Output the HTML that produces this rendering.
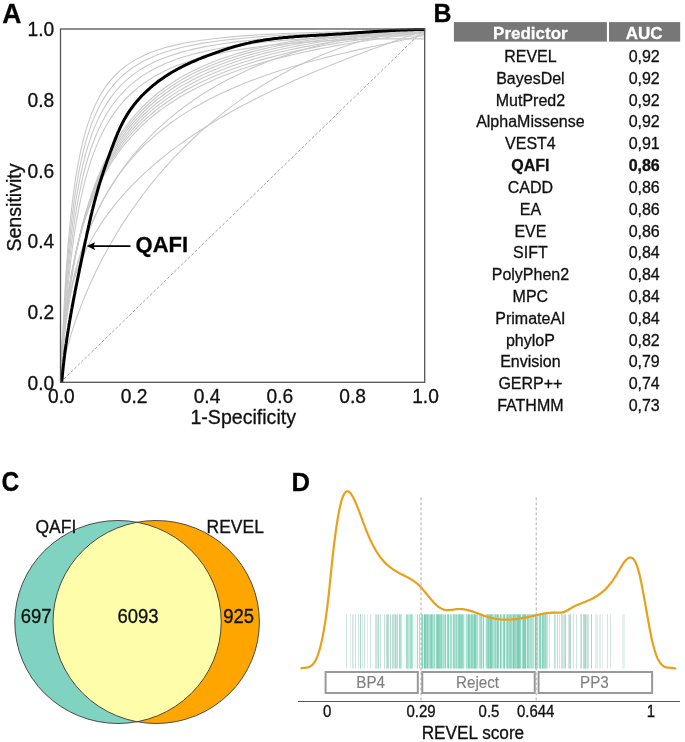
<!DOCTYPE html>
<html><head><meta charset="utf-8"><title>Figure</title>
<style>
html,body{margin:0;padding:0;background:#fff;}
body{width:685px;height:742px;overflow:hidden;}
svg{display:block;}
text{font-family:'Liberation Sans', Arial, Helvetica, sans-serif;fill:#111;stroke:#111;stroke-width:0.3px;}
.th{stroke:#fff;}
.bx{stroke:#808080;stroke-width:0.15px;}
.tk{font-size:19.2px;}
.ax{font-size:19.6px;}
.qa{font-size:22px;font-weight:bold;fill:#000;}
.pl{font-size:26.5px;font-weight:bold;fill:#000;}
.th{font-size:17px;font-weight:bold;fill:#fff;}
.td{font-size:16px;fill:#111;}
.vn{font-size:17.5px;}
.vc{font-size:18.5px;}
.bx{font-size:15.2px;fill:#808080;}
.dt{font-size:15px;}
.dl{font-size:17.2px;}
</style></head>
<body>
<svg width="685" height="742" viewBox="0 0 685 742">
<rect width="685" height="742" fill="#fff"/>
<polyline points="60.5,382.3 60.6,382.2 60.6,382.1 60.6,382.1 60.6,381.9 60.6,381.7 60.7,381.4 60.7,380.9 60.8,380.3 60.8,379.5 60.9,378.4 60.9,376.9 61,375 61.1,372.6 61.3,369.7 61.4,366.1 61.6,361.8 61.8,356.7 62.1,350.8 62.3,344.1 62.7,336.5 63.1,328 63.5,318.7 64,308.7 64.6,297.9 65.2,286.5 65.9,274.6 66.8,262.2 67.7,249.6 68.8,236.8 70,224 71.3,211.2 72.8,198.6 74.4,186.3 76.2,174.4 78.3,162.9 80.5,151.9 82.9,141.5 85.5,131.6 88.4,122.4 91.5,113.8 94.9,105.8 98.5,98.4 102.4,91.6 106.6,85.4 111.1,79.7 115.8,74.5 120.8,69.9 126.2,65.6 131.8,61.9 137.7,58.4 143.8,55.4 150.3,52.6 156.9,50.2 163.9,48 171,46.1 178.4,44.4 186,42.8 193.7,41.5 201.6,40.2 209.7,39.2 217.8,38.2 226,37.4 234.3,36.6 242.6,35.9 250.9,35.4 259.2,34.8 267.4,34.4 275.5,34 283.6,33.6 291.5,33.3 299.2,33 306.8,32.7 314.2,32.5 321.3,32.3 328.3,32.1 334.9,32 341.4,31.8 347.5,31.7 353.4,31.6 359,31.5 364.4,31.5 369.4,31.4 374.1,31.3 378.6,31.3 382.8,31.3 386.7,31.3 390.3,31.3 393.7,31.3 396.8,31.3 399.7,31.3 402.3,31.3 404.7,31.3 406.9,31.3 409,31.3 410.8,31.3 412.4,31.3 413.9,31.3 415.2,31.3 416.4,31.3 417.5,31.3 418.4,31.3 419.3,31.3 420,31.3 420.6,31.3 421.2,31.3 421.7,31.3 422.1,31.3 422.5,31.3 422.9,31.3 423.1,31.3 423.4,31.3 423.6,31.3 423.8,31.3 423.9,31.3 424.1,31.3 424.2,31.3 424.3,31.3 424.3,31.3 424.4,31.3 424.4,31.3 424.7,29" fill="none" stroke="#c9c9c9" stroke-width="1.1"/>
<polyline points="60.5,382.3 60.6,382.2 60.6,382.2 60.6,382.1 60.6,382 60.6,381.8 60.7,381.5 60.7,381.1 60.8,380.6 60.8,379.9 60.9,378.9 60.9,377.7 61,376 61.1,373.9 61.3,371.3 61.4,368.2 61.6,364.3 61.8,359.8 62.1,354.5 62.3,348.4 62.7,341.5 63.1,333.7 63.5,325.2 64,315.8 64.6,305.8 65.2,295.1 65.9,283.8 66.8,272.1 67.7,260 68.8,247.7 70,235.3 71.3,222.8 72.8,210.4 74.4,198.2 76.2,186.3 78.3,174.7 80.5,163.6 82.9,152.9 85.5,142.8 88.4,133.3 91.5,124.3 94.9,115.9 98.5,108 102.4,100.8 106.6,94.1 111.1,88 115.8,82.3 120.8,77.2 126.2,72.5 131.8,68.3 137.7,64.5 143.8,61 150.3,57.9 156.9,55.1 163.9,52.6 171,50.3 178.4,48.3 186,46.5 193.7,44.9 201.6,43.4 209.7,42.2 217.8,41 226,40 234.3,39.1 242.6,38.2 250.9,37.5 259.2,36.9 267.4,36.3 275.5,35.8 283.6,35.3 291.5,34.9 299.2,34.5 306.8,34.2 314.2,33.9 321.3,33.7 328.3,33.4 334.9,33.2 341.4,33.1 347.5,32.9 353.4,32.8 359,32.7 364.4,32.6 369.4,32.5 374.1,32.4 378.6,32.4 382.8,32.4 386.7,32.4 390.3,32.4 393.7,32.4 396.8,32.4 399.7,32.4 402.3,32.4 404.7,32.4 406.9,32.4 409,32.4 410.8,32.4 412.4,32.4 413.9,32.4 415.2,32.4 416.4,32.4 417.5,32.4 418.4,32.4 419.3,32.4 420,32.4 420.6,32.4 421.2,32.4 421.7,32.4 422.1,32.4 422.5,32.4 422.9,32.4 423.1,32.4 423.4,32.4 423.6,32.4 423.8,32.4 423.9,32.4 424.1,32.4 424.2,32.4 424.3,32.4 424.3,32.4 424.4,32.4 424.4,32.4 424.7,29" fill="none" stroke="#c9c9c9" stroke-width="1.1"/>
<polyline points="60.5,382.3 60.6,382.2 60.6,382.2 60.6,382.1 60.6,382 60.6,381.9 60.7,381.6 60.7,381.3 60.8,380.9 60.8,380.3 60.9,379.4 60.9,378.3 61,376.9 61.1,375.1 61.3,372.8 61.4,370 61.6,366.6 61.8,362.6 62.1,357.8 62.3,352.3 62.7,346.1 63.1,339 63.5,331.2 64,322.6 64.6,313.3 65.2,303.3 65.9,292.7 66.8,281.6 67.7,270.1 68.8,258.3 70,246.3 71.3,234.2 72.8,222.1 74.4,210.1 76.2,198.3 78.3,186.8 80.5,175.6 82.9,164.8 85.5,154.5 88.4,144.7 91.5,135.4 94.9,126.6 98.5,118.4 102.4,110.7 106.6,103.6 111.1,97.1 115.8,91 120.8,85.4 126.2,80.3 131.8,75.6 137.7,71.4 143.8,67.5 150.3,64 156.9,60.8 163.9,58 171,55.4 178.4,53.1 186,51 193.7,49.1 201.6,47.4 209.7,45.8 217.8,44.5 226,43.2 234.3,42.1 242.6,41.1 250.9,40.2 259.2,39.4 267.4,38.7 275.5,38.1 283.6,37.5 291.5,37 299.2,36.6 306.8,36.2 314.2,35.8 321.3,35.5 328.3,35.2 334.9,35 341.4,34.7 347.5,34.6 353.4,34.4 359,34.3 364.4,34.1 369.4,34.1 374.1,34 378.6,33.9 382.8,33.9 386.7,33.9 390.3,33.9 393.7,33.9 396.8,33.9 399.7,33.9 402.3,33.9 404.7,33.9 406.9,33.9 409,33.9 410.8,33.9 412.4,33.9 413.9,33.9 415.2,33.9 416.4,33.9 417.5,33.9 418.4,33.9 419.3,33.9 420,33.9 420.6,33.9 421.2,33.9 421.7,33.9 422.1,33.9 422.5,33.9 422.9,33.9 423.1,33.9 423.4,33.9 423.6,33.9 423.8,33.9 423.9,33.9 424.1,33.9 424.2,33.9 424.3,33.9 424.3,33.9 424.4,33.9 424.4,33.9 424.7,29" fill="none" stroke="#c9c9c9" stroke-width="1.1"/>
<polyline points="60.5,382.3 60.6,382.2 60.6,382.2 60.6,382.2 60.6,382.1 60.6,381.9 60.7,381.7 60.7,381.5 60.8,381.1 60.8,380.6 60.9,379.9 60.9,378.9 61,377.7 61.1,376.1 61.3,374.1 61.4,371.7 61.6,368.7 61.8,365.1 62.1,360.9 62.3,355.9 62.7,350.3 63.1,343.9 63.5,336.8 64,328.9 64.6,320.3 65.2,311 65.9,301.2 66.8,290.7 67.7,279.9 68.8,268.6 70,257.1 71.3,245.5 72.8,233.7 74.4,222 76.2,210.4 78.3,199 80.5,187.8 82.9,177 85.5,166.5 88.4,156.5 91.5,147 94.9,138 98.5,129.4 102.4,121.4 106.6,113.9 111.1,107 115.8,100.5 120.8,94.5 126.2,88.9 131.8,83.9 137.7,79.2 143.8,74.9 150.3,71 156.9,67.5 163.9,64.2 171,61.3 178.4,58.6 186,56.2 193.7,54 201.6,52.1 209.7,50.3 217.8,48.7 226,47.2 234.3,45.9 242.6,44.7 250.9,43.7 259.2,42.7 267.4,41.8 275.5,41.1 283.6,40.4 291.5,39.8 299.2,39.2 306.8,38.7 314.2,38.3 321.3,37.9 328.3,37.5 334.9,37.2 341.4,37 347.5,36.7 353.4,36.6 359,36.4 364.4,36.3 369.4,36.2 374.1,36.1 378.6,36.1 382.8,36 386.7,36 390.3,36 393.7,36 396.8,36 399.7,36 402.3,36 404.7,36 406.9,36 409,36 410.8,36 412.4,36 413.9,36 415.2,36 416.4,36 417.5,36 418.4,36 419.3,36 420,36 420.6,36 421.2,36 421.7,36 422.1,36 422.5,36 422.9,36 423.1,36 423.4,36 423.6,36 423.8,36 423.9,36 424.1,36 424.2,36 424.3,36 424.3,36 424.4,36 424.4,36 424.7,29" fill="none" stroke="#c9c9c9" stroke-width="1.1"/>
<polyline points="60.5,382.3 60.6,382.3 60.6,382.2 60.6,382.2 60.6,382.1 60.6,382 60.7,381.8 60.7,381.6 60.8,381.3 60.8,380.8 60.9,380.2 60.9,379.4 61,378.3 61.1,377 61.3,375.3 61.4,373.1 61.6,370.5 61.8,367.3 62.1,363.6 62.3,359.2 62.7,354.1 63.1,348.4 63.5,341.9 64,334.7 64.6,326.8 65.2,318.3 65.9,309.1 66.8,299.4 67.7,289.2 68.8,278.6 70,267.6 71.3,256.5 72.8,245.1 74.4,233.8 76.2,222.4 78.3,211.2 80.5,200.2 82.9,189.4 85.5,178.9 88.4,168.8 91.5,159.1 94.9,149.9 98.5,141.1 102.4,132.8 106.6,125 111.1,117.6 115.8,110.8 120.8,104.4 126.2,98.5 131.8,93 137.7,87.9 143.8,83.3 150.3,79 156.9,75 163.9,71.4 171,68.1 178.4,65.1 186,62.4 193.7,59.9 201.6,57.7 209.7,55.6 217.8,53.7 226,52 234.3,50.5 242.6,49.1 250.9,47.9 259.2,46.7 267.4,45.7 275.5,44.8 283.6,44 291.5,43.2 299.2,42.6 306.8,42 314.2,41.4 321.3,41 328.3,40.6 334.9,40.2 341.4,39.9 347.5,39.6 353.4,39.4 359,39.2 364.4,39.1 369.4,39 374.1,38.9 378.6,38.9 382.8,38.9 386.7,38.9 390.3,38.9 393.7,38.9 396.8,38.9 399.7,38.9 402.3,38.9 404.7,38.9 406.9,38.9 409,38.9 410.8,38.9 412.4,38.9 413.9,38.9 415.2,38.9 416.4,38.9 417.5,38.9 418.4,38.9 419.3,38.9 420,38.9 420.6,38.9 421.2,38.9 421.7,38.9 422.1,38.9 422.5,38.9 422.9,38.9 423.1,38.9 423.4,38.9 423.6,38.9 423.8,38.9 423.9,38.9 424.1,38.9 424.2,38.9 424.3,38.9 424.3,38.9 424.4,38.9 424.4,38.9 424.7,29" fill="none" stroke="#c9c9c9" stroke-width="1.1"/>
<polyline points="60.5,382.3 60.6,381.9 60.6,381.7 60.6,381.5 60.6,381.3 60.6,381 60.7,380.6 60.7,380 60.8,379.4 60.8,378.7 60.9,377.7 60.9,376.6 61,375.3 61.1,373.7 61.3,371.8 61.4,369.7 61.6,367.2 61.8,364.4 62.1,361.1 62.3,357.5 62.7,353.5 63.1,349 63.5,344 64,338.6 64.6,332.7 65.2,326.4 65.9,319.6 66.8,312.3 67.7,304.7 68.8,296.6 70,288.3 71.3,279.6 72.8,270.6 74.4,261.3 76.2,251.9 78.3,242.4 80.5,232.7 82.9,223.1 85.5,213.4 88.4,203.8 91.5,194.2 94.9,184.9 98.5,175.7 102.4,166.7 106.6,157.9 111.1,149.5 115.8,141.3 120.8,133.5 126.2,126 131.8,118.8 137.7,112 143.8,105.6 150.3,99.5 156.9,93.8 163.9,88.5 171,83.5 178.4,78.8 186,74.4 193.7,70.4 201.6,66.7 209.7,63.2 217.8,60.1 226,57.2 234.3,54.5 242.6,52.1 250.9,49.8 259.2,47.8 267.4,45.9 275.5,44.3 283.6,42.7 291.5,41.4 299.2,40.1 306.8,39 314.2,38 321.3,37.1 328.3,36.2 334.9,35.5 341.4,34.8 347.5,34.2 353.4,33.7 359,33.2 364.4,32.8 369.4,32.4 374.1,32 378.6,31.7 382.8,31.5 386.7,31.2 390.3,31 393.7,30.8 396.8,30.6 399.7,30.4 402.3,30.3 404.7,30.2 406.9,30.1 409,30 410.8,29.9 412.4,29.8 413.9,29.7 415.2,29.6 416.4,29.6 417.5,29.5 418.4,29.5 419.3,29.4 420,29.4 420.6,29.4 421.2,29.3 421.7,29.3 422.1,29.3 422.5,29.3 422.9,29.2 423.1,29.2 423.4,29.2 423.6,29.2 423.8,29.2 423.9,29.2 424.1,29.2 424.2,29.1 424.3,29.1 424.3,29.1 424.4,29.1 424.4,29.1 424.7,29" fill="none" stroke="#c9c9c9" stroke-width="1.1"/>
<polyline points="60.5,382.3 60.6,381.8 60.6,381.6 60.6,381.4 60.6,381.1 60.6,380.7 60.7,380.3 60.7,379.7 60.8,379 60.8,378.2 60.9,377.2 60.9,376 61,374.6 61.1,372.9 61.3,371 61.4,368.7 61.6,366.1 61.8,363.2 62.1,359.9 62.3,356.2 62.7,352.1 63.1,347.5 63.5,342.5 64,337.1 64.6,331.2 65.2,324.9 65.9,318.2 66.8,311 67.7,303.5 68.8,295.5 70,287.3 71.3,278.8 72.8,270 74.4,260.9 76.2,251.7 78.3,242.4 80.5,233 82.9,223.6 85.5,214.1 88.4,204.8 91.5,195.5 94.9,186.3 98.5,177.3 102.4,168.6 106.6,160 111.1,151.7 115.8,143.7 120.8,136 126.2,128.7 131.8,121.6 137.7,114.9 143.8,108.5 150.3,102.5 156.9,96.8 163.9,91.4 171,86.4 178.4,81.7 186,77.3 193.7,73.2 201.6,69.4 209.7,65.9 217.8,62.7 226,59.7 234.3,56.9 242.6,54.4 250.9,52.1 259.2,49.9 267.4,48 275.5,46.2 283.6,44.6 291.5,43.1 299.2,41.8 306.8,40.5 314.2,39.4 321.3,38.4 328.3,37.5 334.9,36.7 341.4,36 347.5,35.3 353.4,34.7 359,34.1 364.4,33.6 369.4,33.2 374.1,32.8 378.6,32.4 382.8,32.1 386.7,31.8 390.3,31.5 393.7,31.3 396.8,31.1 399.7,30.9 402.3,30.7 404.7,30.6 406.9,30.4 409,30.3 410.8,30.2 412.4,30.1 413.9,30 415.2,29.9 416.4,29.8 417.5,29.8 418.4,29.7 419.3,29.6 420,29.6 420.6,29.6 421.2,29.5 421.7,29.5 422.1,29.4 422.5,29.4 422.9,29.4 423.1,29.4 423.4,29.3 423.6,29.3 423.8,29.3 423.9,29.3 424.1,29.3 424.2,29.2 424.3,29.2 424.3,29.2 424.4,29.2 424.4,29.2 424.7,29" fill="none" stroke="#c9c9c9" stroke-width="1.1"/>
<polyline points="60.5,382.3 60.6,381.7 60.6,381.5 60.6,381.2 60.6,380.9 60.6,380.5 60.7,380 60.7,379.4 60.8,378.6 60.8,377.7 60.9,376.6 60.9,375.3 61,373.8 61.1,372.1 61.3,370 61.4,367.7 61.6,365 61.8,362 62.1,358.6 62.3,354.8 62.7,350.6 63.1,346.1 63.5,341 64,335.6 64.6,329.7 65.2,323.4 65.9,316.7 66.8,309.7 67.7,302.2 68.8,294.4 70,286.3 71.3,278 72.8,269.3 74.4,260.5 76.2,251.6 78.3,242.5 80.5,233.3 82.9,224.1 85.5,214.9 88.4,205.8 91.5,196.7 94.9,187.8 98.5,179 102.4,170.5 106.6,162.1 111.1,154 115.8,146.2 120.8,138.6 126.2,131.4 131.8,124.4 137.7,117.8 143.8,111.5 150.3,105.5 156.9,99.8 163.9,94.5 171,89.5 178.4,84.7 186,80.3 193.7,76.2 201.6,72.3 209.7,68.8 217.8,65.4 226,62.4 234.3,59.5 242.6,56.9 250.9,54.5 259.2,52.2 267.4,50.2 275.5,48.3 283.6,46.6 291.5,45 299.2,43.6 306.8,42.3 314.2,41.1 321.3,40 328.3,39 334.9,38.1 341.4,37.3 347.5,36.5 353.4,35.8 359,35.2 364.4,34.7 369.4,34.2 374.1,33.7 378.6,33.3 382.8,32.9 386.7,32.6 390.3,32.3 393.7,32 396.8,31.7 399.7,31.5 402.3,31.3 404.7,31.1 406.9,30.9 409,30.8 410.8,30.6 412.4,30.5 413.9,30.4 415.2,30.3 416.4,30.2 417.5,30.1 418.4,30 419.3,29.9 420,29.9 420.6,29.8 421.2,29.7 421.7,29.7 422.1,29.7 422.5,29.6 422.9,29.6 423.1,29.5 423.4,29.5 423.6,29.5 423.8,29.5 423.9,29.4 424.1,29.4 424.2,29.4 424.3,29.4 424.3,29.3 424.4,29.3 424.4,29.3 424.7,29" fill="none" stroke="#c9c9c9" stroke-width="1.1"/>
<polyline points="60.5,382.3 60.6,381.6 60.6,381.3 60.6,381 60.6,380.7 60.6,380.2 60.7,379.6 60.7,379 60.8,378.1 60.8,377.2 60.9,376 60.9,374.6 61,373 61.1,371.2 61.3,369 61.4,366.6 61.6,363.8 61.8,360.7 62.1,357.3 62.3,353.4 62.7,349.2 63.1,344.5 63.5,339.5 64,334 64.6,328.2 65.2,321.9 65.9,315.3 66.8,308.3 67.7,301 68.8,293.3 70,285.4 71.3,277.2 72.8,268.7 74.4,260.1 76.2,251.4 78.3,242.5 80.5,233.6 82.9,224.6 85.5,215.7 88.4,206.8 91.5,198 94.9,189.3 98.5,180.7 102.4,172.4 106.6,164.2 111.1,156.3 115.8,148.7 120.8,141.2 126.2,134.1 131.8,127.3 137.7,120.7 143.8,114.5 150.3,108.6 156.9,103 163.9,97.6 171,92.6 178.4,87.9 186,83.4 193.7,79.3 201.6,75.4 209.7,71.8 217.8,68.4 226,65.2 234.3,62.3 242.6,59.6 250.9,57.1 259.2,54.8 267.4,52.6 275.5,50.7 283.6,48.8 291.5,47.2 299.2,45.6 306.8,44.2 314.2,42.9 321.3,41.8 328.3,40.7 334.9,39.7 341.4,38.8 347.5,38 353.4,37.2 359,36.5 364.4,35.9 369.4,35.3 374.1,34.8 378.6,34.3 382.8,33.9 386.7,33.5 390.3,33.1 393.7,32.8 396.8,32.5 399.7,32.2 402.3,32 404.7,31.7 406.9,31.5 409,31.3 410.8,31.2 412.4,31 413.9,30.9 415.2,30.7 416.4,30.6 417.5,30.5 418.4,30.4 419.3,30.3 420,30.2 420.6,30.2 421.2,30.1 421.7,30 422.1,30 422.5,29.9 422.9,29.9 423.1,29.8 423.4,29.8 423.6,29.7 423.8,29.7 423.9,29.7 424.1,29.6 424.2,29.6 424.3,29.6 424.3,29.6 424.4,29.5 424.4,29.5 424.7,29" fill="none" stroke="#c9c9c9" stroke-width="1.1"/>
<polyline points="60.5,382.3 60.6,381.4 60.6,381.1 60.6,380.8 60.6,380.4 60.6,379.9 60.7,379.3 60.7,378.5 60.8,377.6 60.8,376.6 60.9,375.3 60.9,373.8 61,372.1 61.1,370.2 61.3,368 61.4,365.4 61.6,362.6 61.8,359.4 62.1,355.8 62.3,351.9 62.7,347.6 63.1,343 63.5,337.9 64,332.4 64.6,326.6 65.2,320.4 65.9,313.8 66.8,306.9 67.7,299.7 68.8,292.2 70,284.4 71.3,276.3 72.8,268.1 74.4,259.7 76.2,251.2 78.3,242.5 80.5,233.8 82.9,225.1 85.5,216.4 88.4,207.8 91.5,199.2 94.9,190.8 98.5,182.5 102.4,174.3 106.6,166.4 111.1,158.6 115.8,151.1 120.8,143.9 126.2,136.9 131.8,130.2 137.7,123.7 143.8,117.6 150.3,111.7 156.9,106.2 163.9,100.9 171,95.9 178.4,91.1 186,86.7 193.7,82.5 201.6,78.6 209.7,74.9 217.8,71.5 226,68.3 234.3,65.3 242.6,62.5 250.9,59.9 259.2,57.5 267.4,55.3 275.5,53.2 283.6,51.3 291.5,49.5 299.2,47.9 306.8,46.4 314.2,45 321.3,43.8 328.3,42.6 334.9,41.5 341.4,40.5 347.5,39.6 353.4,38.8 359,38 364.4,37.3 369.4,36.7 374.1,36.1 378.6,35.6 382.8,35.1 386.7,34.6 390.3,34.2 393.7,33.8 396.8,33.5 399.7,33.1 402.3,32.8 404.7,32.6 406.9,32.3 409,32.1 410.8,31.9 412.4,31.7 413.9,31.5 415.2,31.4 416.4,31.2 417.5,31.1 418.4,31 419.3,30.8 420,30.7 420.6,30.6 421.2,30.6 421.7,30.5 422.1,30.4 422.5,30.3 422.9,30.3 423.1,30.2 423.4,30.2 423.6,30.1 423.8,30.1 423.9,30 424.1,30 424.2,29.9 424.3,29.9 424.3,29.9 424.4,29.9 424.4,29.8 424.7,29" fill="none" stroke="#c9c9c9" stroke-width="1.1"/>
<polyline points="60.5,382.3 60.6,381.2 60.6,380.9 60.6,380.5 60.6,380.1 60.6,379.5 60.7,378.8 60.7,378 60.8,377 60.8,375.9 60.9,374.6 60.9,373 61,371.2 61.1,369.2 61.3,366.8 61.4,364.2 61.6,361.3 61.8,358 62.1,354.4 62.3,350.4 62.7,346.1 63.1,341.4 63.5,336.3 64,330.8 64.6,325 65.2,318.9 65.9,312.4 66.8,305.5 67.7,298.4 68.8,291 70,283.4 71.3,275.5 72.8,267.5 74.4,259.3 76.2,251 78.3,242.6 80.5,234.1 82.9,225.7 85.5,217.2 88.4,208.8 91.5,200.5 94.9,192.2 98.5,184.2 102.4,176.2 106.6,168.5 111.1,161 115.8,153.6 120.8,146.6 126.2,139.7 131.8,133.1 137.7,126.8 143.8,120.7 150.3,115 156.9,109.4 163.9,104.2 171,99.2 178.4,94.5 186,90.1 193.7,85.9 201.6,81.9 209.7,78.2 217.8,74.7 226,71.5 234.3,68.4 242.6,65.6 250.9,62.9 259.2,60.4 267.4,58.1 275.5,56 283.6,54 291.5,52.1 299.2,50.4 306.8,48.8 314.2,47.4 321.3,46 328.3,44.7 334.9,43.6 341.4,42.5 347.5,41.5 353.4,40.6 359,39.8 364.4,39 369.4,38.3 374.1,37.6 378.6,37 382.8,36.5 386.7,36 390.3,35.5 393.7,35 396.8,34.6 399.7,34.3 402.3,33.9 404.7,33.6 406.9,33.3 409,33.1 410.8,32.8 412.4,32.6 413.9,32.4 415.2,32.2 416.4,32 417.5,31.8 418.4,31.7 419.3,31.6 420,31.4 420.6,31.3 421.2,31.2 421.7,31.1 422.1,31 422.5,30.9 422.9,30.8 423.1,30.8 423.4,30.7 423.6,30.6 423.8,30.6 423.9,30.5 424.1,30.5 424.2,30.4 424.3,30.4 424.3,30.4 424.4,30.3 424.4,30.3 424.7,29" fill="none" stroke="#c9c9c9" stroke-width="1.1"/>
<polyline points="60.5,382.3 60.6,381 60.6,380.7 60.6,380.2 60.6,379.7 60.6,379.1 60.7,378.3 60.7,377.4 60.8,376.4 60.8,375.2 60.9,373.7 60.9,372.1 61,370.2 61.1,368 61.3,365.6 61.4,362.9 61.6,359.9 61.8,356.5 62.1,352.8 62.3,348.8 62.7,344.4 63.1,339.7 63.5,334.6 64,329.2 64.6,323.4 65.2,317.3 65.9,310.9 66.8,304.1 67.7,297.1 68.8,289.9 70,282.4 71.3,274.7 72.8,266.9 74.4,258.9 76.2,250.8 78.3,242.6 80.5,234.4 82.9,226.2 85.5,218 88.4,209.8 91.5,201.7 94.9,193.7 98.5,185.9 102.4,178.2 106.6,170.6 111.1,163.3 115.8,156.2 120.8,149.2 126.2,142.6 131.8,136.1 137.7,129.9 143.8,123.9 150.3,118.2 156.9,112.8 163.9,107.6 171,102.7 178.4,98 186,93.6 193.7,89.4 201.6,85.4 209.7,81.7 217.8,78.1 226,74.8 234.3,71.7 242.6,68.8 250.9,66.1 259.2,63.6 267.4,61.2 275.5,59 283.6,56.9 291.5,55 299.2,53.2 306.8,51.5 314.2,49.9 321.3,48.5 328.3,47.2 334.9,45.9 341.4,44.8 347.5,43.7 353.4,42.7 359,41.8 364.4,41 369.4,40.2 374.1,39.4 378.6,38.8 382.8,38.2 386.7,37.6 390.3,37 393.7,36.6 396.8,36.1 399.7,35.7 402.3,35.3 404.7,34.9 406.9,34.6 409,34.3 410.8,34 412.4,33.7 413.9,33.5 415.2,33.3 416.4,33 417.5,32.8 418.4,32.7 419.3,32.5 420,32.3 420.6,32.2 421.2,32.1 421.7,31.9 422.1,31.8 422.5,31.7 422.9,31.6 423.1,31.5 423.4,31.5 423.6,31.4 423.8,31.3 423.9,31.3 424.1,31.2 424.2,31.1 424.3,31.1 424.3,31.1 424.4,31 424.4,31 424.7,29" fill="none" stroke="#c9c9c9" stroke-width="1.1"/>
<polyline points="60.5,382.3 60.6,381.3 60.6,381.1 60.6,380.7 60.6,380.3 60.6,379.9 60.7,379.3 60.7,378.6 60.8,377.8 60.8,376.8 60.9,375.7 60.9,374.4 61,372.9 61.1,371.2 61.3,369.2 61.4,367.1 61.6,364.6 61.8,361.9 62.1,358.9 62.3,355.6 62.7,351.9 63.1,348 63.5,343.7 64,339.2 64.6,334.3 65.2,329 65.9,323.5 66.8,317.7 67.7,311.6 68.8,305.2 70,298.6 71.3,291.8 72.8,284.7 74.4,277.5 76.2,270.1 78.3,262.6 80.5,255 82.9,247.3 85.5,239.5 88.4,231.8 91.5,224 94.9,216.3 98.5,208.7 102.4,201.1 106.6,193.6 111.1,186.3 115.8,179.1 120.8,172 126.2,165.2 131.8,158.5 137.7,152 143.8,145.7 150.3,139.6 156.9,133.8 163.9,128.2 171,122.8 178.4,117.6 186,112.6 193.7,107.9 201.6,103.4 209.7,99.1 217.8,95 226,91.2 234.3,87.5 242.6,84 250.9,80.7 259.2,77.7 267.4,74.7 275.5,72 283.6,69.4 291.5,67 299.2,64.7 306.8,62.5 314.2,60.5 321.3,58.7 328.3,56.9 334.9,55.2 341.4,53.7 347.5,52.2 353.4,50.9 359,49.6 364.4,48.4 369.4,47.3 374.1,46.3 378.6,45.4 382.8,44.5 386.7,43.6 390.3,42.8 393.7,42.1 396.8,41.4 399.7,40.8 402.3,40.2 404.7,39.7 406.9,39.2 409,38.7 410.8,38.2 412.4,37.8 413.9,37.4 415.2,37.1 416.4,36.7 417.5,36.4 418.4,36.1 419.3,35.9 420,35.6 420.6,35.4 421.2,35.2 421.7,35 422.1,34.8 422.5,34.6 422.9,34.5 423.1,34.3 423.4,34.2 423.6,34.1 423.8,34 423.9,33.9 424.1,33.8 424.2,33.7 424.3,33.6 424.3,33.5 424.4,33.5 424.4,33.4 424.7,29" fill="none" stroke="#c9c9c9" stroke-width="1.1"/>
<polyline points="60.5,382.3 60.6,377.8 60.6,377.1 60.6,376.4 60.6,375.5 60.6,374.6 60.7,373.6 60.7,372.4 60.8,371.1 60.8,369.7 60.9,368.1 60.9,366.4 61,364.5 61.1,362.4 61.3,360.2 61.4,357.7 61.6,355.1 61.8,352.2 62.1,349.2 62.3,345.9 62.7,342.3 63.1,338.6 63.5,334.5 64,330.3 64.6,325.8 65.2,321 65.9,316 66.8,310.8 67.7,305.3 68.8,299.5 70,293.6 71.3,287.4 72.8,281 74.4,274.5 76.2,267.7 78.3,260.8 80.5,253.7 82.9,246.5 85.5,239.2 88.4,231.7 91.5,224.2 94.9,216.7 98.5,209.1 102.4,201.5 106.6,193.9 111.1,186.4 115.8,178.9 120.8,171.5 126.2,164.1 131.8,156.9 137.7,149.9 143.8,143 150.3,136.2 156.9,129.7 163.9,123.3 171,117.2 178.4,111.2 186,105.5 193.7,100 201.6,94.8 209.7,89.8 217.8,85.1 226,80.6 234.3,76.4 242.6,72.4 250.9,68.6 259.2,65.1 267.4,61.8 275.5,58.8 283.6,56 291.5,53.3 299.2,50.9 306.8,48.7 314.2,46.6 321.3,44.7 328.3,43 334.9,41.5 341.4,40.1 347.5,38.8 353.4,37.6 359,36.6 364.4,35.7 369.4,34.8 374.1,34.1 378.6,33.4 382.8,32.9 386.7,32.3 390.3,31.9 393.7,31.5 396.8,31.1 399.7,30.8 402.3,30.6 404.7,30.3 406.9,30.1 409,30 410.8,29.8 412.4,29.7 413.9,29.6 415.2,29.5 416.4,29.4 417.5,29.3 418.4,29.3 419.3,29.2 420,29.2 420.6,29.2 421.2,29.1 421.7,29.1 422.1,29.1 422.5,29.1 422.9,29.1 423.1,29 423.4,29 423.6,29 423.8,29 423.9,29 424.1,29 424.2,29 424.3,29 424.3,29 424.4,29 424.4,29 424.7,29" fill="none" stroke="#c9c9c9" stroke-width="1.1"/>
<polyline points="60.5,382.3 60.6,372.3 60.6,371.3 60.6,370.2 60.6,369 60.6,367.7 60.7,366.3 60.7,364.8 60.8,363.2 60.8,361.5 60.9,359.7 60.9,357.7 61,355.7 61.1,353.4 61.3,351.1 61.4,348.6 61.6,346 61.8,343.2 62.1,340.3 62.3,337.2 62.7,334 63.1,330.6 63.5,327.1 64,323.4 64.6,319.5 65.2,315.5 65.9,311.4 66.8,307.1 67.7,302.6 68.8,298 70,293.3 71.3,288.4 72.8,283.4 74.4,278.2 76.2,273 78.3,267.6 80.5,262.1 82.9,256.6 85.5,250.9 88.4,245.2 91.5,239.4 94.9,233.5 98.5,227.6 102.4,221.6 106.6,215.6 111.1,209.6 115.8,203.6 120.8,197.6 126.2,191.6 131.8,185.6 137.7,179.7 143.8,173.8 150.3,167.9 156.9,162.2 163.9,156.5 171,150.9 178.4,145.4 186,140 193.7,134.7 201.6,129.5 209.7,124.5 217.8,119.5 226,114.7 234.3,110.1 242.6,105.6 250.9,101.2 259.2,97 267.4,93 275.5,89.1 283.6,85.4 291.5,81.8 299.2,78.3 306.8,75.1 314.2,72 321.3,69 328.3,66.2 334.9,63.5 341.4,61 347.5,58.6 353.4,56.3 359,54.2 364.4,52.2 369.4,50.3 374.1,48.6 378.6,47 382.8,45.4 386.7,44 390.3,42.7 393.7,41.5 396.8,40.4 399.7,39.3 402.3,38.3 404.7,37.5 406.9,36.6 409,35.9 410.8,35.2 412.4,34.6 413.9,34 415.2,33.5 416.4,33 417.5,32.6 418.4,32.2 419.3,31.9 420,31.5 420.6,31.3 421.2,31 421.7,30.8 422.1,30.6 422.5,30.4 422.9,30.2 423.1,30.1 423.4,29.9 423.6,29.8 423.8,29.7 423.9,29.6 424.1,29.5 424.2,29.5 424.3,29.4 424.3,29.4 424.4,29.3 424.4,29.3 424.7,29" fill="none" stroke="#c9c9c9" stroke-width="1.1"/>
<polyline points="60.5,382.3 60.6,381.6 60.6,381.4 60.6,381.2 60.6,381 60.6,380.8 60.7,380.5 60.7,380.2 60.8,379.8 60.8,379.3 60.9,378.8 60.9,378.2 61,377.6 61.1,376.8 61.3,375.9 61.4,375 61.6,373.9 61.8,372.6 62.1,371.2 62.3,369.7 62.7,367.9 63.1,366 63.5,363.9 64,361.6 64.6,359 65.2,356.2 65.9,353.2 66.8,349.9 67.7,346.3 68.8,342.5 70,338.3 71.3,333.9 72.8,329.2 74.4,324.2 76.2,318.8 78.3,313.2 80.5,307.3 82.9,301.1 85.5,294.7 88.4,287.9 91.5,281 94.9,273.7 98.5,266.3 102.4,258.7 106.6,250.9 111.1,242.9 115.8,234.8 120.8,226.6 126.2,218.4 131.8,210.1 137.7,201.8 143.8,193.5 150.3,185.2 156.9,177 163.9,168.9 171,160.9 178.4,153.1 186,145.5 193.7,138 201.6,130.8 209.7,123.8 217.8,117.1 226,110.6 234.3,104.4 242.6,98.4 250.9,92.8 259.2,87.5 267.4,82.4 275.5,77.7 283.6,73.3 291.5,69.1 299.2,65.2 306.8,61.6 314.2,58.3 321.3,55.3 328.3,52.5 334.9,49.9 341.4,47.5 347.5,45.4 353.4,43.5 359,41.7 364.4,40.2 369.4,38.8 374.1,37.5 378.6,36.4 382.8,35.4 386.7,34.5 390.3,33.8 393.7,33.1 396.8,32.5 399.7,32 402.3,31.5 404.7,31.2 406.9,30.8 409,30.5 410.8,30.3 412.4,30.1 413.9,29.9 415.2,29.7 416.4,29.6 417.5,29.5 418.4,29.4 419.3,29.3 420,29.3 420.6,29.2 421.2,29.2 421.7,29.2 422.1,29.1 422.5,29.1 422.9,29.1 423.1,29.1 423.4,29.1 423.6,29 423.8,29 423.9,29 424.1,29 424.2,29 424.3,29 424.3,29 424.4,29 424.4,29 424.7,29" fill="none" stroke="#c9c9c9" stroke-width="1.1"/>
<line x1="60.5" y1="382.3" x2="424.7" y2="29.0" stroke="#a8a8a8" stroke-width="1" stroke-dasharray="3 1.8"/>
<polyline points="61.8,382.3 61.9,380.8 62,379.3 62.2,377.8 62.3,376.3 62.4,374.8 62.6,373.3 62.7,371.8 62.9,370.3 63,368.8 63.2,367.3 63.3,365.9 63.5,364.4 63.7,362.9 63.8,361.4 64,359.9 64.2,358.4 64.4,356.9 64.6,355.4 64.7,353.9 64.9,352.5 65.1,351 65.3,349.5 65.5,348 65.7,346.5 65.9,345 66.2,343.5 66.4,342.1 66.6,340.6 66.8,339.1 67,337.6 67.3,336.1 67.5,334.6 67.7,333.2 67.9,331.7 68.2,330.2 68.4,328.7 68.7,327.2 68.9,325.8 69.1,324.3 69.4,322.8 69.6,321.3 69.9,319.8 70.1,318.4 70.4,316.9 70.7,315.4 70.9,313.9 71.2,312.5 71.4,311 71.7,309.5 72,308 72.2,306.6 72.5,305.1 72.8,303.6 73.1,302.1 73.3,300.7 73.6,299.2 73.9,297.7 74.2,296.2 74.5,294.8 74.8,293.3 75,291.8 75.3,290.3 75.6,288.9 75.9,287.4 76.2,285.9 76.5,284.5 76.8,283 77.1,281.5 77.4,280 77.7,278.6 78,277.1 78.3,275.6 78.6,274.2 78.9,272.7 79.2,271.2 79.5,269.8 79.8,268.3 80.1,266.8 80.4,265.3 80.7,263.9 81,262.4 81.3,260.9 81.6,259.5 81.9,258 82.2,256.5 82.5,255.1 82.8,253.6 83.1,252.1 83.4,250.7 83.7,249.2 84,247.7 84.3,246.3 84.6,244.8 84.9,243.3 85.2,241.9 85.5,240.4 85.9,238.9 86.2,237.5 86.5,236 86.8,234.5 87.1,233.1 87.4,231.6 87.8,230.1 88.1,228.7 88.4,227.2 88.7,225.7 89.1,224.3 89.4,222.8 89.7,221.4 90.1,219.9 90.4,218.4 90.7,217 91.1,215.5 91.4,214.1 91.8,212.6 92.1,211.2 92.5,209.7 92.9,208.3 93.2,206.8 93.6,205.3 94,203.9 94.3,202.4 94.7,201 95.1,199.6 95.5,198.1 95.9,196.7 96.3,195.2 96.7,193.8 97.1,192.3 97.5,190.9 97.9,189.5 98.3,188 98.7,186.6 99.1,185.2 99.6,183.7 100,182.3 100.5,180.9 100.9,179.4 101.4,178 101.8,176.6 102.3,175.2 102.8,173.7 103.2,172.3 103.7,170.9 104.2,169.5 104.7,168 105.2,166.6 105.6,165.2 106.1,163.8 106.6,162.4 107.1,160.9 107.6,159.5 108.2,158.1 108.7,156.7 109.2,155.3 109.7,153.9 110.2,152.4 110.7,151 111.3,149.6 111.8,148.2 112.3,146.8 112.9,145.4 113.4,144 113.9,142.5 114.5,141.1 115,139.7 115.6,138.3 116.2,136.9 116.7,135.5 117.3,134.1 117.9,132.7 118.5,131.4 119.1,130 119.7,128.6 120.4,127.2 121,125.9 121.7,124.5 122.3,123.2 123,121.9 123.7,120.6 124.4,119.3 125.2,118 125.9,116.7 126.7,115.4 127.5,114.1 128.3,112.9 129.1,111.6 129.9,110.4 130.8,109.2 131.6,108 132.5,106.8 133.4,105.6 134.3,104.4 135.2,103.3 136.2,102.1 137.1,101 138.1,99.9 139.1,98.8 140.1,97.7 141.1,96.6 142.1,95.5 143.2,94.5 144.2,93.4 145.3,92.4 146.4,91.4 147.5,90.3 148.6,89.3 149.7,88.3 150.8,87.4 152,86.4 153.1,85.4 154.3,84.5 155.4,83.6 156.6,82.7 157.8,81.7 159,80.8 160.2,80 161.5,79.1 162.7,78.2 163.9,77.4 165.2,76.5 166.4,75.7 167.7,74.9 169,74.1 170.3,73.3 171.5,72.5 172.8,71.8 174.1,71 175.5,70.3 176.8,69.5 178.1,68.8 179.4,68.1 180.8,67.4 182.1,66.7 183.4,66 184.8,65.4 186.1,64.7 187.5,64.1 188.9,63.4 190.2,62.8 191.6,62.2 193,61.6 194.4,61 195.8,60.4 197.1,59.8 198.5,59.2 199.9,58.7 201.3,58.1 202.7,57.5 204.1,57 205.5,56.5 206.9,55.9 208.4,55.4 209.8,54.9 211.2,54.3 212.6,53.8 214,53.3 215.4,52.8 216.8,52.3 218.3,51.8 219.7,51.3 221.1,50.9 222.5,50.4 223.9,49.9 225.4,49.4 226.8,49 228.2,48.5 229.7,48.1 231.1,47.7 232.5,47.2 234,46.8 235.4,46.4 236.8,46 238.3,45.6 239.7,45.2 241.2,44.8 242.6,44.5 244.1,44.1 245.5,43.7 247,43.4 248.4,43.1 249.9,42.7 251.3,42.4 252.8,42.1 254.3,41.8 255.7,41.6 257.2,41.3 258.7,41 260.1,40.8 261.6,40.5 263.1,40.3 264.6,40 266,39.8 267.5,39.6 269,39.4 270.5,39.2 272,39 273.4,38.8 274.9,38.6 276.4,38.4 277.9,38.3 279.4,38.1 280.9,37.9 282.4,37.8 283.9,37.6 285.4,37.5 286.9,37.4 288.4,37.2 289.9,37.1 291.3,37 292.8,36.9 294.3,36.7 295.8,36.6 297.3,36.5 298.8,36.4 300.3,36.3 301.8,36.2 303.3,36.1 304.8,36 306.4,35.9 307.9,35.8 309.4,35.7 310.9,35.6 312.4,35.6 313.9,35.5 315.4,35.4 316.9,35.3 318.4,35.2 319.9,35.1 321.4,35 322.9,35 324.4,34.9 325.9,34.8 327.4,34.7 328.9,34.6 330.4,34.5 331.9,34.4 333.4,34.3 334.9,34.2 336.4,34.1 337.9,34 339.4,34 340.9,33.9 342.4,33.8 343.9,33.7 345.4,33.6 346.9,33.5 348.4,33.4 349.9,33.3 351.3,33.2 352.8,33.1 354.3,32.9 355.8,32.8 357.3,32.7 358.8,32.6 360.3,32.5 361.8,32.4 363.3,32.3 364.8,32.2 366.3,32.1 367.8,32 369.3,31.9 370.8,31.8 372.3,31.7 373.8,31.6 375.2,31.5 376.7,31.4 378.2,31.3 379.7,31.3 381.2,31.2 382.7,31.1 384.2,31 385.7,30.9 387.2,30.8 388.7,30.7 390.2,30.6 391.7,30.6 393.2,30.5 394.7,30.4 396.2,30.3 397.7,30.3 399.2,30.2 400.7,30.1 402.2,30.1 403.7,30 405.2,29.9 406.7,29.9 408.2,29.8 409.7,29.8 411.2,29.7 412.7,29.7 414.2,29.6 415.7,29.6 417.2,29.6 418.7,29.5 420.2,29.5 421.7,29.5 423.2,29.4 424.7,29.4" fill="none" stroke="#000" stroke-width="3" stroke-linejoin="round"/>
<rect x="60.5" y="29.0" width="364.2" height="353.3" fill="none" stroke="#555" stroke-width="1.3"/>
<text transform="translate(54.2,389.7) scale(1,1.1)" text-anchor="end" class="tk">0.0</text>
<text transform="translate(61.3,403.2) scale(1,1.1)" text-anchor="middle" class="tk">0.0</text>
<text transform="translate(54.2,319) scale(1,1.1)" text-anchor="end" class="tk">0.2</text>
<text transform="translate(134.1,403.2) scale(1,1.1)" text-anchor="middle" class="tk">0.2</text>
<text transform="translate(54.2,248.4) scale(1,1.1)" text-anchor="end" class="tk">0.4</text>
<text transform="translate(207,403.2) scale(1,1.1)" text-anchor="middle" class="tk">0.4</text>
<text transform="translate(54.2,177.7) scale(1,1.1)" text-anchor="end" class="tk">0.6</text>
<text transform="translate(279.8,403.2) scale(1,1.1)" text-anchor="middle" class="tk">0.6</text>
<text transform="translate(54.2,107.1) scale(1,1.1)" text-anchor="end" class="tk">0.8</text>
<text transform="translate(352.7,403.2) scale(1,1.1)" text-anchor="middle" class="tk">0.8</text>
<text transform="translate(54.2,36.4) scale(1,1.1)" text-anchor="end" class="tk">1.0</text>
<text transform="translate(425.5,403.2) scale(1,1.1)" text-anchor="middle" class="tk">1.0</text>
<text transform="translate(243.2,423.6) scale(1,1.07)" text-anchor="middle" class="ax">1-Specificity</text>
<text transform="translate(21.3,207.5) rotate(-90) scale(1,1.04)" text-anchor="middle" class="ax">Sensitivity</text>
<line x1="92" y1="246.1" x2="130.5" y2="246.1" stroke="#000" stroke-width="1.8"/>
<path d="M86.8,246.1 L95,242.2 L93.6,246.1 L95,250 Z" fill="#000"/>
<text transform="translate(135.6,251.5) scale(1,1.03)" class="qa">QAFI</text>
<text transform="translate(2.2,22.6) scale(1,1.04)" class="pl">A</text>
<text transform="translate(433.5,22.4) scale(0.94,1)" class="pl">B</text>
<rect x="453.9" y="22.1" width="153" height="19.5" fill="#777"/>
<rect x="609" y="22.1" width="71.2" height="19.5" fill="#777"/>
<text x="530.4" y="39.1" text-anchor="middle" class="th">Predictor</text>
<text x="644.2" y="39.1" text-anchor="middle" class="th">AUC</text>
<text x="530.4" y="62" text-anchor="middle" class="td">REVEL</text>
<text x="644.2" y="62" text-anchor="middle" class="td">0,92</text>
<text x="530.4" y="83.8" text-anchor="middle" class="td">BayesDel</text>
<text x="644.2" y="83.8" text-anchor="middle" class="td">0,92</text>
<text x="530.4" y="105.6" text-anchor="middle" class="td">MutPred2</text>
<text x="644.2" y="105.6" text-anchor="middle" class="td">0,92</text>
<text x="530.4" y="127.4" text-anchor="middle" class="td">AlphaMissense</text>
<text x="644.2" y="127.4" text-anchor="middle" class="td">0,92</text>
<text x="530.4" y="149.2" text-anchor="middle" class="td">VEST4</text>
<text x="644.2" y="149.2" text-anchor="middle" class="td">0,91</text>
<text x="530.4" y="171" text-anchor="middle" class="td" font-weight="bold">QAFI</text>
<text x="644.2" y="171" text-anchor="middle" class="td" font-weight="bold">0,86</text>
<text x="530.4" y="192.9" text-anchor="middle" class="td">CADD</text>
<text x="644.2" y="192.9" text-anchor="middle" class="td">0,86</text>
<text x="530.4" y="214.7" text-anchor="middle" class="td">EA</text>
<text x="644.2" y="214.7" text-anchor="middle" class="td">0,86</text>
<text x="530.4" y="236.5" text-anchor="middle" class="td">EVE</text>
<text x="644.2" y="236.5" text-anchor="middle" class="td">0,86</text>
<text x="530.4" y="258.3" text-anchor="middle" class="td">SIFT</text>
<text x="644.2" y="258.3" text-anchor="middle" class="td">0,84</text>
<text x="530.4" y="280.1" text-anchor="middle" class="td">PolyPhen2</text>
<text x="644.2" y="280.1" text-anchor="middle" class="td">0,84</text>
<text x="530.4" y="301.9" text-anchor="middle" class="td">MPC</text>
<text x="644.2" y="301.9" text-anchor="middle" class="td">0,84</text>
<text x="530.4" y="323.7" text-anchor="middle" class="td">PrimateAI</text>
<text x="644.2" y="323.7" text-anchor="middle" class="td">0,84</text>
<text x="530.4" y="345.5" text-anchor="middle" class="td">phyloP</text>
<text x="644.2" y="345.5" text-anchor="middle" class="td">0,82</text>
<text x="530.4" y="367.3" text-anchor="middle" class="td">Envision</text>
<text x="644.2" y="367.3" text-anchor="middle" class="td">0,79</text>
<text x="530.4" y="389.1" text-anchor="middle" class="td">GERP++</text>
<text x="644.2" y="389.1" text-anchor="middle" class="td">0,74</text>
<text x="530.4" y="411" text-anchor="middle" class="td">FATHMM</text>
<text x="644.2" y="411" text-anchor="middle" class="td">0,73</text>
<text transform="translate(1.4,490.5) scale(0.93,1.06)" class="pl">C</text>
<defs><clipPath id="cl1"><ellipse cx="118.0" cy="622.0" rx="103.2" ry="101.5"/></clipPath></defs>
<ellipse cx="118.0" cy="622.0" rx="103.2" ry="101.5" fill="#80d3c0"/>
<ellipse cx="156.2" cy="622.0" rx="103.2" ry="101.5" fill="#ffa500"/>
<ellipse cx="156.2" cy="622.0" rx="103.2" ry="101.5" fill="#fdfdaa" clip-path="url(#cl1)"/>
<ellipse cx="118.0" cy="622.0" rx="103.2" ry="101.5" fill="none" stroke="#3a3a3a" stroke-width="0.9"/>
<ellipse cx="156.2" cy="622.0" rx="103.2" ry="101.5" fill="none" stroke="#3a3a3a" stroke-width="0.9"/>
<text transform="translate(35.5,532.6) scale(1,1.08)" class="vn">QAFI</text>
<text transform="translate(206.5,532.6) scale(1,1.08)" class="vn">REVEL</text>
<text transform="translate(36.1,622.9) scale(1,1.08)" text-anchor="middle" class="vc">697</text>
<text transform="translate(138,622.9) scale(1,1.08)" text-anchor="middle" class="vc">6093</text>
<text transform="translate(238.6,622.9) scale(1,1.08)" text-anchor="middle" class="vc">925</text>
<text transform="translate(291.6,490.6) scale(0.97,1.0)" class="pl">D</text>
<rect x="346" y="614.3" width="1" height="54.3" fill="#72b4a4" fill-opacity="0.34"/>
<rect x="350" y="614.3" width="1" height="54.3" fill="#72b4a4" fill-opacity="0.22"/>
<rect x="352" y="614.3" width="1" height="54.3" fill="#72b4a4" fill-opacity="0.31"/>
<rect x="353" y="614.3" width="1" height="54.3" fill="#72b4a4" fill-opacity="0.22"/>
<rect x="355" y="614.3" width="1" height="54.3" fill="#72b4a4" fill-opacity="0.36"/>
<rect x="358" y="614.3" width="1" height="54.3" fill="#72b4a4" fill-opacity="0.34"/>
<rect x="360" y="614.3" width="1" height="54.3" fill="#72b4a4" fill-opacity="0.56"/>
<rect x="362" y="614.3" width="1" height="54.3" fill="#72b4a4" fill-opacity="0.25"/>
<rect x="364" y="614.3" width="1" height="54.3" fill="#72b4a4" fill-opacity="0.36"/>
<rect x="367" y="614.3" width="1" height="54.3" fill="#72b4a4" fill-opacity="0.22"/>
<rect x="370" y="614.3" width="1" height="54.3" fill="#72b4a4" fill-opacity="0.34"/>
<rect x="375" y="614.3" width="1" height="54.3" fill="#72b4a4" fill-opacity="0.34"/>
<rect x="376" y="614.3" width="1" height="54.3" fill="#72b4a4" fill-opacity="0.37"/>
<rect x="377" y="614.3" width="1" height="54.3" fill="#72b4a4" fill-opacity="0.26"/>
<rect x="378" y="614.3" width="1" height="54.3" fill="#72b4a4" fill-opacity="0.56"/>
<rect x="380" y="614.3" width="1" height="54.3" fill="#72b4a4" fill-opacity="0.38"/>
<rect x="384" y="614.3" width="1" height="54.3" fill="#72b4a4" fill-opacity="0.40"/>
<rect x="386" y="614.3" width="1" height="54.3" fill="#72b4a4" fill-opacity="0.42"/>
<rect x="387" y="614.3" width="1" height="54.3" fill="#72b4a4" fill-opacity="0.52"/>
<rect x="388" y="614.3" width="1" height="54.3" fill="#72b4a4" fill-opacity="0.46"/>
<rect x="390" y="614.3" width="1" height="54.3" fill="#72b4a4" fill-opacity="0.53"/>
<rect x="392" y="614.3" width="1" height="54.3" fill="#72b4a4" fill-opacity="0.47"/>
<rect x="393" y="614.3" width="1" height="54.3" fill="#72b4a4" fill-opacity="0.40"/>
<rect x="394" y="614.3" width="1" height="54.3" fill="#72b4a4" fill-opacity="0.31"/>
<rect x="395" y="614.3" width="1" height="54.3" fill="#5fc5a8" fill-opacity="0.61"/>
<rect x="396" y="614.3" width="1" height="54.3" fill="#5fc5a8" fill-opacity="0.39"/>
<rect x="397" y="614.3" width="1" height="54.3" fill="#5fc5a8" fill-opacity="0.49"/>
<rect x="398" y="614.3" width="1" height="54.3" fill="#5fc5a8" fill-opacity="0.03"/>
<rect x="399" y="614.3" width="1" height="54.3" fill="#5fc5a8" fill-opacity="0.60"/>
<rect x="400" y="614.3" width="1" height="54.3" fill="#5fc5a8" fill-opacity="0.51"/>
<rect x="401" y="614.3" width="1" height="54.3" fill="#5fc5a8" fill-opacity="0.34"/>
<rect x="403" y="614.3" width="1" height="54.3" fill="#5fc5a8" fill-opacity="0.04"/>
<rect x="404" y="614.3" width="1" height="54.3" fill="#5fc5a8" fill-opacity="0.04"/>
<rect x="405" y="614.3" width="1" height="54.3" fill="#5fc5a8" fill-opacity="0.06"/>
<rect x="406" y="614.3" width="1" height="54.3" fill="#5fc5a8" fill-opacity="0.59"/>
<rect x="407" y="614.3" width="1" height="54.3" fill="#5fc5a8" fill-opacity="0.57"/>
<rect x="408" y="614.3" width="1" height="54.3" fill="#5fc5a8" fill-opacity="0.41"/>
<rect x="409" y="614.3" width="1" height="54.3" fill="#5fc5a8" fill-opacity="0.37"/>
<rect x="410" y="614.3" width="1" height="54.3" fill="#5fc5a8" fill-opacity="0.55"/>
<rect x="411" y="614.3" width="1" height="54.3" fill="#5fc5a8" fill-opacity="0.60"/>
<rect x="412" y="614.3" width="1" height="54.3" fill="#5fc5a8" fill-opacity="0.47"/>
<rect x="413" y="614.3" width="1" height="54.3" fill="#5fc5a8" fill-opacity="0.04"/>
<rect x="414" y="614.3" width="1" height="54.3" fill="#5fc5a8" fill-opacity="0.07"/>
<rect x="415" y="614.3" width="1" height="54.3" fill="#5fc5a8" fill-opacity="0.11"/>
<rect x="416" y="614.3" width="1" height="54.3" fill="#5fc5a8" fill-opacity="0.09"/>
<rect x="417" y="614.3" width="1" height="54.3" fill="#5fc5a8" fill-opacity="0.58"/>
<rect x="418" y="614.3" width="1" height="54.3" fill="#5fc5a8" fill-opacity="0.04"/>
<rect x="419" y="614.3" width="1" height="54.3" fill="#5fc5a8" fill-opacity="0.50"/>
<rect x="420" y="614.3" width="1" height="54.3" fill="#5fc5a8" fill-opacity="0.04"/>
<rect x="421" y="614.3" width="1" height="54.3" fill="#5fc5a8" fill-opacity="0.45"/>
<rect x="422" y="614.3" width="1" height="54.3" fill="#5fc5a8" fill-opacity="0.72"/>
<rect x="423" y="614.3" width="1" height="54.3" fill="#5fc5a8" fill-opacity="0.23"/>
<rect x="424" y="614.3" width="1" height="54.3" fill="#5fc5a8" fill-opacity="0.85"/>
<rect x="425" y="614.3" width="1" height="54.3" fill="#5fc5a8" fill-opacity="0.80"/>
<rect x="426" y="614.3" width="1" height="54.3" fill="#5fc5a8" fill-opacity="0.62"/>
<rect x="427" y="614.3" width="1" height="54.3" fill="#5fc5a8" fill-opacity="0.81"/>
<rect x="428" y="614.3" width="1" height="54.3" fill="#5fc5a8" fill-opacity="0.51"/>
<rect x="429" y="614.3" width="1" height="54.3" fill="#5fc5a8" fill-opacity="0.56"/>
<rect x="430" y="614.3" width="1" height="54.3" fill="#5fc5a8" fill-opacity="0.68"/>
<rect x="431" y="614.3" width="1" height="54.3" fill="#5fc5a8" fill-opacity="0.82"/>
<rect x="432" y="614.3" width="1" height="54.3" fill="#5fc5a8" fill-opacity="0.64"/>
<rect x="433" y="614.3" width="1" height="54.3" fill="#5fc5a8" fill-opacity="0.45"/>
<rect x="434" y="614.3" width="1" height="54.3" fill="#5fc5a8" fill-opacity="0.59"/>
<rect x="435" y="614.3" width="1" height="54.3" fill="#5fc5a8" fill-opacity="0.23"/>
<rect x="436" y="614.3" width="1" height="54.3" fill="#5fc5a8" fill-opacity="0.64"/>
<rect x="437" y="614.3" width="1" height="54.3" fill="#5fc5a8" fill-opacity="0.81"/>
<rect x="438" y="614.3" width="1" height="54.3" fill="#5fc5a8" fill-opacity="0.79"/>
<rect x="439" y="614.3" width="1" height="54.3" fill="#5fc5a8" fill-opacity="0.70"/>
<rect x="440" y="614.3" width="1" height="54.3" fill="#5fc5a8" fill-opacity="0.66"/>
<rect x="441" y="614.3" width="1" height="54.3" fill="#5fc5a8" fill-opacity="0.74"/>
<rect x="442" y="614.3" width="1" height="54.3" fill="#5fc5a8" fill-opacity="0.46"/>
<rect x="443" y="614.3" width="1" height="54.3" fill="#5fc5a8" fill-opacity="0.54"/>
<rect x="444" y="614.3" width="1" height="54.3" fill="#5fc5a8" fill-opacity="0.47"/>
<rect x="445" y="614.3" width="1" height="54.3" fill="#5fc5a8" fill-opacity="0.70"/>
<rect x="446" y="614.3" width="1" height="54.3" fill="#5fc5a8" fill-opacity="0.14"/>
<rect x="447" y="614.3" width="1" height="54.3" fill="#5fc5a8" fill-opacity="0.63"/>
<rect x="448" y="614.3" width="1" height="54.3" fill="#5fc5a8" fill-opacity="0.78"/>
<rect x="449" y="614.3" width="1" height="54.3" fill="#5fc5a8" fill-opacity="0.15"/>
<rect x="450" y="614.3" width="1" height="54.3" fill="#5fc5a8" fill-opacity="0.59"/>
<rect x="451" y="614.3" width="1" height="54.3" fill="#5fc5a8" fill-opacity="0.55"/>
<rect x="452" y="614.3" width="1" height="54.3" fill="#5fc5a8" fill-opacity="0.17"/>
<rect x="453" y="614.3" width="1" height="54.3" fill="#5fc5a8" fill-opacity="0.68"/>
<rect x="454" y="614.3" width="1" height="54.3" fill="#5fc5a8" fill-opacity="0.66"/>
<rect x="455" y="614.3" width="1" height="54.3" fill="#5fc5a8" fill-opacity="0.47"/>
<rect x="456" y="614.3" width="1" height="54.3" fill="#5fc5a8" fill-opacity="0.65"/>
<rect x="457" y="614.3" width="1" height="54.3" fill="#5fc5a8" fill-opacity="0.46"/>
<rect x="458" y="614.3" width="1" height="54.3" fill="#5fc5a8" fill-opacity="0.66"/>
<rect x="459" y="614.3" width="1" height="54.3" fill="#5fc5a8" fill-opacity="0.76"/>
<rect x="460" y="614.3" width="1" height="54.3" fill="#5fc5a8" fill-opacity="0.69"/>
<rect x="461" y="614.3" width="1" height="54.3" fill="#5fc5a8" fill-opacity="0.71"/>
<rect x="462" y="614.3" width="1" height="54.3" fill="#5fc5a8" fill-opacity="0.68"/>
<rect x="463" y="614.3" width="1" height="54.3" fill="#5fc5a8" fill-opacity="0.53"/>
<rect x="464" y="614.3" width="1" height="54.3" fill="#5fc5a8" fill-opacity="0.21"/>
<rect x="465" y="614.3" width="1" height="54.3" fill="#5fc5a8" fill-opacity="0.14"/>
<rect x="466" y="614.3" width="1" height="54.3" fill="#5fc5a8" fill-opacity="0.56"/>
<rect x="467" y="614.3" width="1" height="54.3" fill="#5fc5a8" fill-opacity="0.46"/>
<rect x="468" y="614.3" width="1" height="54.3" fill="#5fc5a8" fill-opacity="0.81"/>
<rect x="469" y="614.3" width="1" height="54.3" fill="#5fc5a8" fill-opacity="0.74"/>
<rect x="470" y="614.3" width="1" height="54.3" fill="#5fc5a8" fill-opacity="0.48"/>
<rect x="471" y="614.3" width="1" height="54.3" fill="#5fc5a8" fill-opacity="0.74"/>
<rect x="472" y="614.3" width="1" height="54.3" fill="#5fc5a8" fill-opacity="0.68"/>
<rect x="473" y="614.3" width="1" height="54.3" fill="#5fc5a8" fill-opacity="0.56"/>
<rect x="474" y="614.3" width="1" height="54.3" fill="#5fc5a8" fill-opacity="0.84"/>
<rect x="475" y="614.3" width="1" height="54.3" fill="#5fc5a8" fill-opacity="0.76"/>
<rect x="476" y="614.3" width="1" height="54.3" fill="#5fc5a8" fill-opacity="0.53"/>
<rect x="477" y="614.3" width="1" height="54.3" fill="#5fc5a8" fill-opacity="0.49"/>
<rect x="478" y="614.3" width="1" height="54.3" fill="#5fc5a8" fill-opacity="0.15"/>
<rect x="479" y="614.3" width="1" height="54.3" fill="#5fc5a8" fill-opacity="0.45"/>
<rect x="480" y="614.3" width="1" height="54.3" fill="#5fc5a8" fill-opacity="0.54"/>
<rect x="481" y="614.3" width="1" height="54.3" fill="#5fc5a8" fill-opacity="0.70"/>
<rect x="482" y="614.3" width="1" height="54.3" fill="#5fc5a8" fill-opacity="0.23"/>
<rect x="483" y="614.3" width="1" height="54.3" fill="#5fc5a8" fill-opacity="0.71"/>
<rect x="484" y="614.3" width="1" height="54.3" fill="#5fc5a8" fill-opacity="0.11"/>
<rect x="485" y="614.3" width="1" height="54.3" fill="#5fc5a8" fill-opacity="0.15"/>
<rect x="486" y="614.3" width="1" height="54.3" fill="#5fc5a8" fill-opacity="0.59"/>
<rect x="487" y="614.3" width="1" height="54.3" fill="#5fc5a8" fill-opacity="0.66"/>
<rect x="488" y="614.3" width="1" height="54.3" fill="#5fc5a8" fill-opacity="0.77"/>
<rect x="489" y="614.3" width="1" height="54.3" fill="#5fc5a8" fill-opacity="0.65"/>
<rect x="490" y="614.3" width="1" height="54.3" fill="#5fc5a8" fill-opacity="0.85"/>
<rect x="491" y="614.3" width="1" height="54.3" fill="#5fc5a8" fill-opacity="0.82"/>
<rect x="492" y="614.3" width="1" height="54.3" fill="#5fc5a8" fill-opacity="0.61"/>
<rect x="493" y="614.3" width="1" height="54.3" fill="#5fc5a8" fill-opacity="0.47"/>
<rect x="494" y="614.3" width="1" height="54.3" fill="#5fc5a8" fill-opacity="0.55"/>
<rect x="495" y="614.3" width="1" height="54.3" fill="#5fc5a8" fill-opacity="0.68"/>
<rect x="496" y="614.3" width="1" height="54.3" fill="#5fc5a8" fill-opacity="0.46"/>
<rect x="497" y="614.3" width="1" height="54.3" fill="#5fc5a8" fill-opacity="0.84"/>
<rect x="498" y="614.3" width="1" height="54.3" fill="#5fc5a8" fill-opacity="0.61"/>
<rect x="499" y="614.3" width="1" height="54.3" fill="#5fc5a8" fill-opacity="0.11"/>
<rect x="500" y="614.3" width="1" height="54.3" fill="#5fc5a8" fill-opacity="0.79"/>
<rect x="501" y="614.3" width="1" height="54.3" fill="#5fc5a8" fill-opacity="0.48"/>
<rect x="502" y="614.3" width="1" height="54.3" fill="#5fc5a8" fill-opacity="0.20"/>
<rect x="503" y="614.3" width="1" height="54.3" fill="#5fc5a8" fill-opacity="0.65"/>
<rect x="504" y="614.3" width="1" height="54.3" fill="#5fc5a8" fill-opacity="0.83"/>
<rect x="505" y="614.3" width="1" height="54.3" fill="#5fc5a8" fill-opacity="0.10"/>
<rect x="506" y="614.3" width="1" height="54.3" fill="#5fc5a8" fill-opacity="0.53"/>
<rect x="507" y="614.3" width="1" height="54.3" fill="#5fc5a8" fill-opacity="0.76"/>
<rect x="508" y="614.3" width="1" height="54.3" fill="#5fc5a8" fill-opacity="0.53"/>
<rect x="509" y="614.3" width="1" height="54.3" fill="#5fc5a8" fill-opacity="0.63"/>
<rect x="510" y="614.3" width="1" height="54.3" fill="#5fc5a8" fill-opacity="0.74"/>
<rect x="511" y="614.3" width="1" height="54.3" fill="#5fc5a8" fill-opacity="0.59"/>
<rect x="512" y="614.3" width="1" height="54.3" fill="#5fc5a8" fill-opacity="0.48"/>
<rect x="513" y="614.3" width="1" height="54.3" fill="#5fc5a8" fill-opacity="0.85"/>
<rect x="514" y="614.3" width="1" height="54.3" fill="#5fc5a8" fill-opacity="0.69"/>
<rect x="515" y="614.3" width="1" height="54.3" fill="#5fc5a8" fill-opacity="0.69"/>
<rect x="516" y="614.3" width="1" height="54.3" fill="#5fc5a8" fill-opacity="0.56"/>
<rect x="517" y="614.3" width="1" height="54.3" fill="#5fc5a8" fill-opacity="0.83"/>
<rect x="518" y="614.3" width="1" height="54.3" fill="#5fc5a8" fill-opacity="0.85"/>
<rect x="519" y="614.3" width="1" height="54.3" fill="#5fc5a8" fill-opacity="0.78"/>
<rect x="520" y="614.3" width="1" height="54.3" fill="#5fc5a8" fill-opacity="0.65"/>
<rect x="521" y="614.3" width="1" height="54.3" fill="#5fc5a8" fill-opacity="0.11"/>
<rect x="522" y="614.3" width="1" height="54.3" fill="#5fc5a8" fill-opacity="0.55"/>
<rect x="523" y="614.3" width="1" height="54.3" fill="#5fc5a8" fill-opacity="0.80"/>
<rect x="524" y="614.3" width="1" height="54.3" fill="#5fc5a8" fill-opacity="0.78"/>
<rect x="525" y="614.3" width="1" height="54.3" fill="#5fc5a8" fill-opacity="0.85"/>
<rect x="526" y="614.3" width="1" height="54.3" fill="#5fc5a8" fill-opacity="0.20"/>
<rect x="527" y="614.3" width="1" height="54.3" fill="#5fc5a8" fill-opacity="0.73"/>
<rect x="528" y="614.3" width="1" height="54.3" fill="#5fc5a8" fill-opacity="0.61"/>
<rect x="529" y="614.3" width="1" height="54.3" fill="#5fc5a8" fill-opacity="0.48"/>
<rect x="530" y="614.3" width="1" height="54.3" fill="#5fc5a8" fill-opacity="0.53"/>
<rect x="531" y="614.3" width="1" height="54.3" fill="#5fc5a8" fill-opacity="0.55"/>
<rect x="532" y="614.3" width="1" height="54.3" fill="#5fc5a8" fill-opacity="0.45"/>
<rect x="533" y="614.3" width="1" height="54.3" fill="#5fc5a8" fill-opacity="0.47"/>
<rect x="534" y="614.3" width="1" height="54.3" fill="#5fc5a8" fill-opacity="0.22"/>
<rect x="535" y="614.3" width="1" height="54.3" fill="#5fc5a8" fill-opacity="0.84"/>
<rect x="536" y="614.3" width="1" height="54.3" fill="#5fc5a8" fill-opacity="0.56"/>
<rect x="537" y="614.3" width="1" height="54.3" fill="#5fc5a8" fill-opacity="0.54"/>
<rect x="538" y="614.3" width="1" height="54.3" fill="#5fc5a8" fill-opacity="0.15"/>
<rect x="539" y="614.3" width="1" height="54.3" fill="#5fc5a8" fill-opacity="0.69"/>
<rect x="540" y="614.3" width="1" height="54.3" fill="#5fc5a8" fill-opacity="0.76"/>
<rect x="541" y="614.3" width="1" height="54.3" fill="#5fc5a8" fill-opacity="0.18"/>
<rect x="542" y="614.3" width="1" height="54.3" fill="#5fc5a8" fill-opacity="0.79"/>
<rect x="543" y="614.3" width="1" height="54.3" fill="#5fc5a8" fill-opacity="0.66"/>
<rect x="544" y="614.3" width="1" height="54.3" fill="#5fc5a8" fill-opacity="0.56"/>
<rect x="545" y="614.3" width="1" height="54.3" fill="#5fc5a8" fill-opacity="0.67"/>
<rect x="546" y="614.3" width="1" height="54.3" fill="#5fc5a8" fill-opacity="0.48"/>
<rect x="547" y="614.3" width="1" height="54.3" fill="#5fc5a8" fill-opacity="0.37"/>
<rect x="549" y="614.3" width="1" height="54.3" fill="#5fc5a8" fill-opacity="0.36"/>
<rect x="554" y="614.3" width="1" height="54.3" fill="#5fc5a8" fill-opacity="0.48"/>
<rect x="555" y="614.3" width="1" height="54.3" fill="#5fc5a8" fill-opacity="0.31"/>
<rect x="557" y="614.3" width="1" height="54.3" fill="#5fc5a8" fill-opacity="0.46"/>
<rect x="559" y="614.3" width="1" height="54.3" fill="#5fc5a8" fill-opacity="0.35"/>
<rect x="561" y="614.3" width="1" height="54.3" fill="#72b4a4" fill-opacity="0.37"/>
<rect x="562" y="614.3" width="1" height="54.3" fill="#72b4a4" fill-opacity="0.38"/>
<rect x="563" y="614.3" width="1" height="54.3" fill="#72b4a4" fill-opacity="0.29"/>
<rect x="564" y="614.3" width="1" height="54.3" fill="#72b4a4" fill-opacity="0.37"/>
<rect x="565" y="614.3" width="1" height="54.3" fill="#72b4a4" fill-opacity="0.55"/>
<rect x="568" y="614.3" width="1" height="54.3" fill="#72b4a4" fill-opacity="0.30"/>
<rect x="569" y="614.3" width="1" height="54.3" fill="#72b4a4" fill-opacity="0.46"/>
<rect x="570" y="614.3" width="1" height="54.3" fill="#72b4a4" fill-opacity="0.53"/>
<rect x="573" y="614.3" width="1" height="54.3" fill="#72b4a4" fill-opacity="0.36"/>
<rect x="576" y="614.3" width="1" height="54.3" fill="#72b4a4" fill-opacity="0.35"/>
<rect x="580" y="614.3" width="1" height="54.3" fill="#72b4a4" fill-opacity="0.34"/>
<rect x="581" y="614.3" width="1" height="54.3" fill="#72b4a4" fill-opacity="0.47"/>
<rect x="583" y="614.3" width="1" height="54.3" fill="#72b4a4" fill-opacity="0.45"/>
<rect x="584" y="614.3" width="1" height="54.3" fill="#72b4a4" fill-opacity="0.50"/>
<rect x="585" y="614.3" width="1" height="54.3" fill="#72b4a4" fill-opacity="0.60"/>
<rect x="586" y="614.3" width="1" height="54.3" fill="#72b4a4" fill-opacity="0.32"/>
<rect x="587" y="614.3" width="1" height="54.3" fill="#72b4a4" fill-opacity="0.39"/>
<rect x="588" y="614.3" width="1" height="54.3" fill="#72b4a4" fill-opacity="0.34"/>
<rect x="591" y="614.3" width="1" height="54.3" fill="#72b4a4" fill-opacity="0.59"/>
<rect x="595" y="614.3" width="1" height="54.3" fill="#72b4a4" fill-opacity="0.22"/>
<rect x="596" y="614.3" width="1" height="54.3" fill="#72b4a4" fill-opacity="0.20"/>
<rect x="597" y="614.3" width="1" height="54.3" fill="#72b4a4" fill-opacity="0.22"/>
<rect x="599" y="614.3" width="1" height="54.3" fill="#72b4a4" fill-opacity="0.20"/>
<rect x="600" y="614.3" width="1" height="54.3" fill="#72b4a4" fill-opacity="0.22"/>
<rect x="602" y="614.3" width="1" height="54.3" fill="#72b4a4" fill-opacity="0.20"/>
<rect x="607" y="614.3" width="1" height="54.3" fill="#72b4a4" fill-opacity="0.34"/>
<rect x="610" y="614.3" width="1" height="54.3" fill="#72b4a4" fill-opacity="0.31"/>
<rect x="622" y="614.3" width="1" height="54.3" fill="#72b4a4" fill-opacity="0.17"/>
<rect x="623" y="614.3" width="1" height="54.3" fill="#72b4a4" fill-opacity="0.20"/>
<rect x="624" y="614.3" width="1" height="54.3" fill="#72b4a4" fill-opacity="0.17"/>
<line x1="421.0" y1="497.4" x2="421.0" y2="701" stroke="#b0b0b0" stroke-width="1" stroke-dasharray="3 2"/>
<line x1="536.2" y1="497.4" x2="536.2" y2="701" stroke="#b0b0b0" stroke-width="1" stroke-dasharray="3 2"/>
<polyline points="300.5,668.5 301,668.4 301.5,668.2 302,668.1 302.5,668 303,668 303.5,667.9 304,667.9 304.5,667.8 305,667.8 305.5,667.7 306,667.7 306.5,667.6 307,667.6 307.5,667.5 308,667.3 308.5,667.2 309,667 309.5,666.8 310,666.6 310.5,666.3 311,666 311.5,665.6 312,665.2 312.5,664.7 313,664.2 313.5,663.5 314,662.9 314.5,662.1 315,661.3 315.5,660.4 316,659.4 316.5,658.4 317,657.2 317.5,655.9 318,654.6 318.5,653.1 319,651.6 319.5,649.9 320,648.1 320.5,646.2 321,644.2 321.5,642 322,639.8 322.5,637.4 323,634.8 323.5,632.1 324,629.3 324.5,626.3 325,623.2 325.5,619.9 326,616.4 326.5,612.8 327,609 327.5,605 328,600.9 328.5,596.5 329,592 329.5,587.2 330,582.4 330.5,577.5 331,572.6 331.5,567.7 332,562.9 332.5,558.2 333,553.6 333.5,549.3 334,545 334.5,541 335,537.1 335.5,533.3 336,529.7 336.5,526.3 337,523 337.5,519.9 338,516.9 338.5,514.1 339,511.5 339.5,509 340,506.7 340.5,504.5 341,502.6 341.5,500.8 342,499.1 342.5,497.6 343,496.3 343.5,495.2 344,494.2 344.5,493.4 345,492.7 345.5,492.1 346,491.7 346.5,491.5 347,491.3 347.5,491.3 348,491.3 348.5,491.5 349,491.8 349.5,492.2 350,492.6 350.5,493.2 351,493.8 351.5,494.6 352,495.3 352.5,496.2 353,497.1 353.5,498.1 354,499.1 354.5,500.1 355,501.2 355.5,502.3 356,503.5 356.5,504.7 357,505.9 357.5,507.1 358,508.4 358.5,509.7 359,511 359.5,512.3 360,513.6 360.5,515 361,516.3 361.5,517.7 362,519 362.5,520.4 363,521.7 363.5,523.1 364,524.4 364.5,525.7 365,527.1 365.5,528.4 366,529.6 366.5,530.9 367,532.1 367.5,533.4 368,534.6 368.5,535.7 369,536.9 369.5,538 370,539.1 370.5,540.2 371,541.2 371.5,542.3 372,543.3 372.5,544.3 373,545.3 373.5,546.2 374,547.1 374.5,548 375,548.9 375.5,549.8 376,550.6 376.5,551.5 377,552.3 377.5,553.1 378,553.8 378.5,554.6 379,555.3 379.5,556 380,556.7 380.5,557.4 381,558 381.5,558.6 382,559.3 382.5,559.9 383,560.4 383.5,561 384,561.6 384.5,562.1 385,562.6 385.5,563.1 386,563.6 386.5,564.1 387,564.6 387.5,565 388,565.5 388.5,565.9 389,566.3 389.5,566.8 390,567.1 390.5,567.5 391,567.9 391.5,568.3 392,568.6 392.5,569 393,569.3 393.5,569.7 394,570 394.5,570.3 395,570.6 395.5,570.9 396,571.2 396.5,571.5 397,571.8 397.5,572.1 398,572.4 398.5,572.7 399,572.9 399.5,573.2 400,573.5 400.5,573.7 401,574 401.5,574.2 402,574.5 402.5,574.7 403,575 403.5,575.2 404,575.5 404.5,575.8 405,576 405.5,576.3 406,576.5 406.5,576.8 407,577 407.5,577.3 408,577.6 408.5,577.8 409,578.1 409.5,578.4 410,578.7 410.5,579 411,579.3 411.5,579.6 412,579.9 412.5,580.2 413,580.5 413.5,580.9 414,581.2 414.5,581.6 415,581.9 415.5,582.3 416,582.7 416.5,583.1 417,583.5 417.5,583.9 418,584.4 418.5,584.8 419,585.3 419.5,585.8 420,586.3 420.5,586.8 421,587.3 421.5,587.9 422,588.4 422.5,589 423,589.6 423.5,590.2 424,590.8 424.5,591.4 425,592 425.5,592.6 426,593.2 426.5,593.8 427,594.5 427.5,595.1 428,595.7 428.5,596.3 429,596.9 429.5,597.5 430,598.1 430.5,598.7 431,599.3 431.5,599.9 432,600.5 432.5,601.1 433,601.6 433.5,602.2 434,602.7 434.5,603.2 435,603.7 435.5,604.2 436,604.6 436.5,605.1 437,605.5 437.5,606 438,606.4 438.5,606.8 439,607.1 439.5,607.5 440,607.8 440.5,608.1 441,608.4 441.5,608.7 442,608.9 442.5,609.1 443,609.3 443.5,609.5 444,609.7 444.5,609.8 445,609.9 445.5,610 446,610.1 446.5,610.1 447,610.2 447.5,610.2 448,610.2 448.5,610.2 449,610.2 449.5,610.1 450,610.1 450.5,610 451,610 451.5,609.9 452,609.8 452.5,609.8 453,609.7 453.5,609.6 454,609.5 454.5,609.5 455,609.4 455.5,609.3 456,609.2 456.5,609.2 457,609.1 457.5,609.1 458,609 458.5,609 459,609 459.5,609 460,609 460.5,609 461,609 461.5,609.1 462,609.1 462.5,609.2 463,609.2 463.5,609.3 464,609.3 464.5,609.4 465,609.5 465.5,609.6 466,609.7 466.5,609.8 467,609.9 467.5,610 468,610.2 468.5,610.3 469,610.4 469.5,610.6 470,610.7 470.5,610.9 471,611 471.5,611.2 472,611.3 472.5,611.5 473,611.7 473.5,611.9 474,612 474.5,612.2 475,612.4 475.5,612.6 476,612.7 476.5,612.9 477,613.1 477.5,613.3 478,613.5 478.5,613.7 479,613.9 479.5,614.1 480,614.2 480.5,614.4 481,614.6 481.5,614.8 482,615 482.5,615.2 483,615.4 483.5,615.5 484,615.7 484.5,615.9 485,616.1 485.5,616.2 486,616.4 486.5,616.6 487,616.7 487.5,616.9 488,617 488.5,617.2 489,617.3 489.5,617.5 490,617.6 490.5,617.7 491,617.9 491.5,618 492,618.1 492.5,618.2 493,618.3 493.5,618.4 494,618.5 494.5,618.6 495,618.7 495.5,618.8 496,618.9 496.5,618.9 497,619 497.5,619.1 498,619.2 498.5,619.2 499,619.3 499.5,619.3 500,619.4 500.5,619.4 501,619.5 501.5,619.5 502,619.5 502.5,619.6 503,619.6 503.5,619.6 504,619.6 504.5,619.6 505,619.7 505.5,619.7 506,619.7 506.5,619.7 507,619.7 507.5,619.7 508,619.7 508.5,619.6 509,619.6 509.5,619.6 510,619.6 510.5,619.6 511,619.5 511.5,619.5 512,619.5 512.5,619.4 513,619.4 513.5,619.4 514,619.3 514.5,619.3 515,619.2 515.5,619.2 516,619.1 516.5,619 517,619 517.5,618.9 518,618.9 518.5,618.8 519,618.7 519.5,618.6 520,618.6 520.5,618.5 521,618.4 521.5,618.3 522,618.2 522.5,618.1 523,618.1 523.5,618 524,617.9 524.5,617.8 525,617.7 525.5,617.6 526,617.5 526.5,617.4 527,617.3 527.5,617.2 528,617 528.5,616.9 529,616.8 529.5,616.7 530,616.6 530.5,616.5 531,616.4 531.5,616.3 532,616.1 532.5,616 533,615.9 533.5,615.8 534,615.7 534.5,615.6 535,615.5 535.5,615.3 536,615.2 536.5,615.1 537,615 537.5,614.9 538,614.8 538.5,614.7 539,614.6 539.5,614.5 540,614.4 540.5,614.3 541,614.2 541.5,614.1 542,614 542.5,613.9 543,613.8 543.5,613.7 544,613.6 544.5,613.5 545,613.4 545.5,613.4 546,613.3 546.5,613.2 547,613.2 547.5,613.1 548,613 548.5,613 549,612.9 549.5,612.9 550,612.8 550.5,612.8 551,612.8 551.5,612.7 552,612.7 552.5,612.7 553,612.7 553.5,612.7 554,612.6 554.5,612.6 555,612.7 555.5,612.7 556,612.7 556.5,612.7 557,612.7 557.5,612.7 558,612.7 558.5,612.7 559,612.7 559.5,612.7 560,612.7 560.5,612.7 561,612.7 561.5,612.6 562,612.5 562.5,612.4 563,612.3 563.5,612.2 564,612 564.5,611.8 565,611.6 565.5,611.4 566,611.1 566.5,610.9 567,610.6 567.5,610.3 568,610 568.5,609.7 569,609.3 569.5,609 570,608.7 570.5,608.4 571,608.1 571.5,607.8 572,607.5 572.5,607.3 573,607 573.5,606.7 574,606.5 574.5,606.2 575,606 575.5,605.8 576,605.5 576.5,605.3 577,605.1 577.5,604.9 578,604.7 578.5,604.5 579,604.3 579.5,604.1 580,603.9 580.5,603.7 581,603.5 581.5,603.3 582,603.1 582.5,602.9 583,602.7 583.5,602.5 584,602.3 584.5,602.1 585,601.9 585.5,601.7 586,601.5 586.5,601.2 587,601 587.5,600.8 588,600.6 588.5,600.4 589,600.2 589.5,599.9 590,599.7 590.5,599.5 591,599.2 591.5,599 592,598.7 592.5,598.5 593,598.2 593.5,598 594,597.7 594.5,597.4 595,597.1 595.5,596.8 596,596.5 596.5,596.2 597,595.9 597.5,595.6 598,595.3 598.5,594.9 599,594.6 599.5,594.2 600,593.8 600.5,593.5 601,593.1 601.5,592.7 602,592.3 602.5,591.9 603,591.4 603.5,591 604,590.5 604.5,590.1 605,589.6 605.5,589.1 606,588.6 606.5,588.1 607,587.6 607.5,587 608,586.5 608.5,585.9 609,585.3 609.5,584.7 610,584.1 610.5,583.5 611,582.9 611.5,582.2 612,581.5 612.5,580.9 613,580.2 613.5,579.4 614,578.7 614.5,578 615,577.2 615.5,576.4 616,575.6 616.5,574.8 617,573.9 617.5,573.1 618,572.2 618.5,571.4 619,570.5 619.5,569.6 620,568.8 620.5,567.9 621,567.1 621.5,566.3 622,565.4 622.5,564.7 623,563.9 623.5,563.2 624,562.4 624.5,561.8 625,561.1 625.5,560.5 626,560 626.5,559.5 627,559 627.5,558.6 628,558.3 628.5,558 629,557.7 629.5,557.6 630,557.5 630.5,557.5 631,557.5 631.5,557.7 632,557.9 632.5,558.2 633,558.6 633.5,559.1 634,559.7 634.5,560.5 635,561.3 635.5,562.2 636,563.3 636.5,564.5 637,565.9 637.5,567.3 638,568.9 638.5,570.7 639,572.6 639.5,574.6 640,576.7 640.5,579 641,581.3 641.5,583.7 642,586.2 642.5,588.8 643,591.5 643.5,594.2 644,596.9 644.5,599.7 645,602.5 645.5,605.4 646,608.2 646.5,611 647,613.9 647.5,616.7 648,619.5 648.5,622.3 649,625 649.5,627.7 650,630.3 650.5,632.8 651,635.3 651.5,637.7 652,640 652.5,642.2 653,644.2 653.5,646.2 654,648 654.5,649.8 655,651.4 655.5,652.9 656,654.4 656.5,655.7 657,656.9 657.5,658.1 658,659.2 658.5,660.1 659,661 659.5,661.9 660,662.6 660.5,663.3 661,663.9 661.5,664.5 662,665 662.5,665.4 663,665.8 663.5,666.2 664,666.5 664.5,666.7 665,667 665.5,667.1 666,667.3 666.5,667.4 667,667.5 667.5,667.6 668,667.6 668.5,667.7 669,667.7 669.5,667.7 670,667.8 670.5,667.8 671,667.8 671.5,667.8 672,667.9 672.5,667.9 673,668 673.5,668.1 674,668.2 674.5,668.3 675,668.4 675.5,668.6 676,668.9" fill="none" stroke="#e8a11c" stroke-width="2.2" stroke-linejoin="round"/>
<rect x="325.6" y="672" width="92.2" height="21" fill="#fff" stroke="#999" stroke-width="2"/>
<text transform="translate(370.7,688.3) scale(1,1.08)" text-anchor="middle" class="bx">BP4</text>
<rect x="422.3" y="672" width="112.4" height="21" fill="#fff" stroke="#999" stroke-width="2"/>
<text transform="translate(477.5,688.3) scale(1,1.08)" text-anchor="middle" class="bx">Reject</text>
<rect x="538.6" y="672" width="113.5" height="21" fill="#fff" stroke="#999" stroke-width="2"/>
<text transform="translate(594.4,688.3) scale(1,1.08)" text-anchor="middle" class="bx">PP3</text>
<line x1="298" y1="701.5" x2="680" y2="701.5" stroke="#555" stroke-width="1.1"/>
<text transform="translate(327.1,717.2) scale(1,1.09)" text-anchor="middle" class="dt">0</text>
<text transform="translate(421,717.2) scale(1,1.09)" text-anchor="middle" class="dt">0.29</text>
<text transform="translate(489,717.2) scale(1,1.09)" text-anchor="middle" class="dt">0.5</text>
<text transform="translate(535.7,717.2) scale(1,1.09)" text-anchor="middle" class="dt">0.644</text>
<text transform="translate(651,717.2) scale(1,1.09)" text-anchor="middle" class="dt">1</text>
<text transform="translate(472.9,739.3) scale(1,1.08)" text-anchor="middle" class="dl">REVEL score</text>
</svg>
</body></html>
